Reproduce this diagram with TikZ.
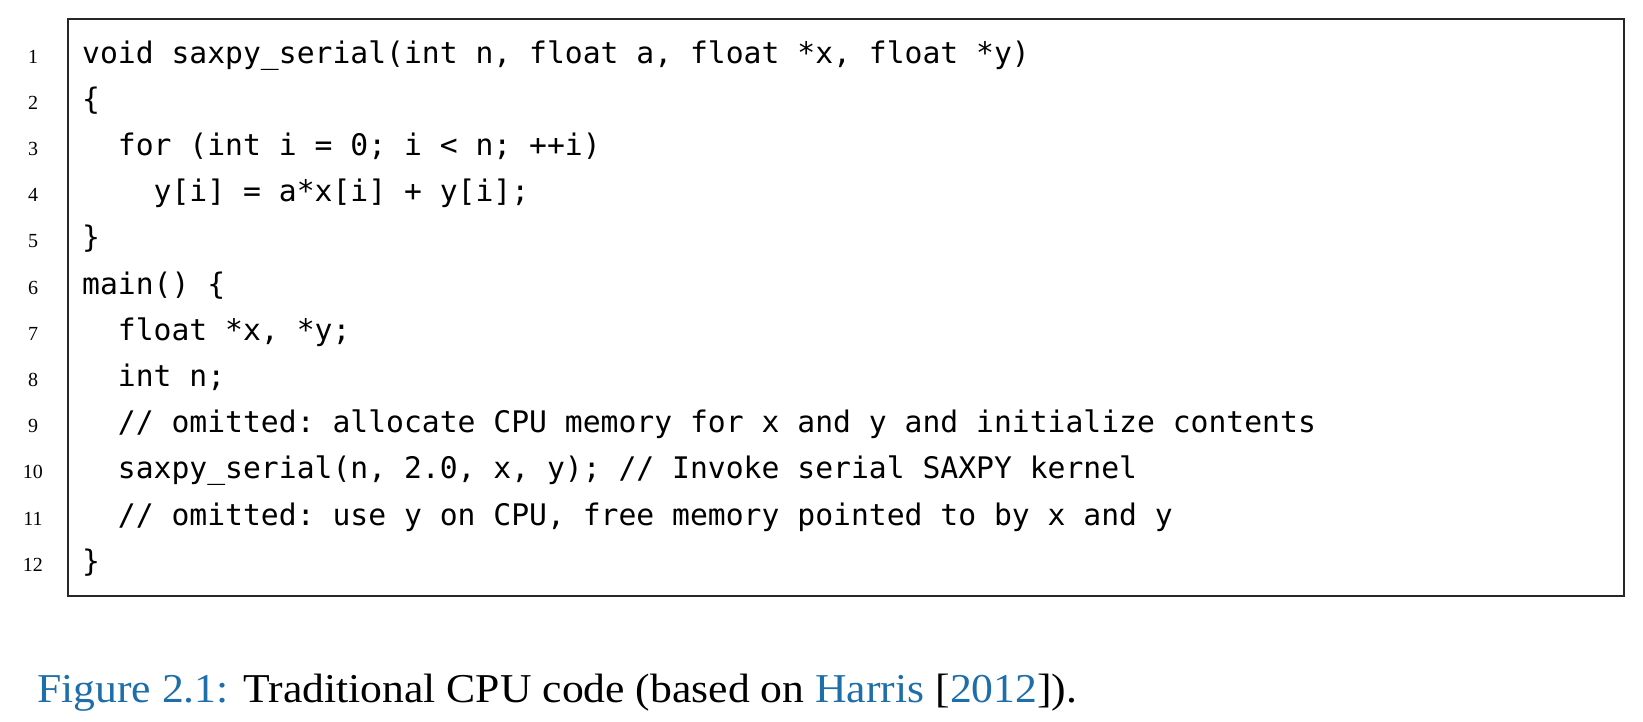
\documentclass[tikz,border=0pt]{standalone}
\usepackage{fontspec}
\setmainfont{Liberation Serif}
\setmonofont{DejaVu Sans Mono}
\definecolor{capblue}{RGB}{30,110,170}
\begin{document}
\begin{tikzpicture}[x=1pt,y=-1pt,
  code/.style={anchor=base west,inner sep=0,font=\ttfamily\fontsize{29.7}{30}\selectfont},
  num/.style={anchor=base,inner sep=0,font=\fontsize{20}{20}\selectfont}]
\useasboundingbox (0,0) rectangle (1643,721);
\node[draw=black!85,line width=1.6pt,minimum width=1556,minimum height=577,anchor=north west,inner sep=0] (box) at (67,18) {};
\foreach \i/\t in {1/{void saxpy\_serial(int n, float a, float *x, float *y)},
  2/{\{},3/{\ \ for (int i = 0; i < n; ++i)},4/{\ \ \ \ y[i] = a*x[i] + y[i];},
  5/{\}},6/{main() \{},7/{\ \ float *x, *y;},8/{\ \ int n;},
  9/{\ \ // omitted: allocate CPU memory for x and y and initialize contents},
  10/{\ \ saxpy\_serial(n, 2.0, x, y); // Invoke serial SAXPY kernel},
  11/{\ \ // omitted: use y on CPU, free memory pointed to by x and y},12/{\}}}{
  \pgfmathsetmacro\yy{63+46.2*(\i-1)}
  \node[num] (n\i) at (33,\yy) {\i};
  \node[code] (c\i) at (82,\yy) {\t};
}
\node[anchor=base west,inner sep=0,xscale=1.065,font=\fontsize{41}{42}\selectfont] (cap) at (37,702)
 {\textcolor{capblue}{Figure 2.1:} Traditional CPU code (based on \textcolor{capblue}{Harris} [\textcolor{capblue}{2012}]).};
\end{tikzpicture}
\end{document}
